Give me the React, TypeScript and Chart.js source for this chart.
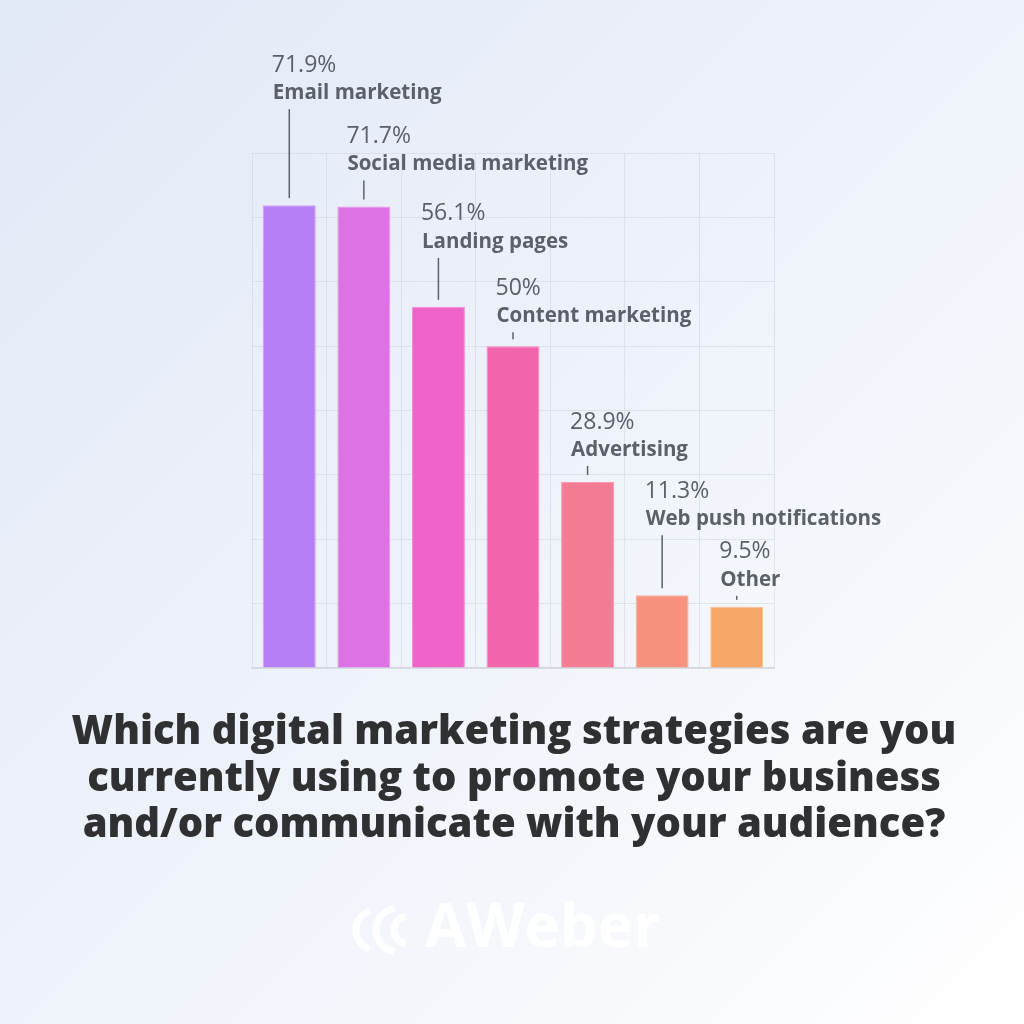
import React, { useEffect, useRef } from "react";
import { Chart, registerables } from "chart.js";

Chart.register(...registerables);

const categories = [
  "Email marketing",
  "Social media marketing",
  "Landing pages",
  "Content marketing",
  "Advertising",
  "Web push notifications",
  "Other",
];
const values = [71.9, 71.7, 56.1, 50, 28.9, 11.3, 9.5];
const valueLabels = ["71.9%", "71.7%", "56.1%", "50%", "28.9%", "11.3%", "9.5%"];
const barColors = ["#b67ff4", "#dc72e3", "#f063c9", "#f365ad", "#f47c95", "#f7927f", "#f7a866"];
const barBorders = ["#c9a0f8", "#e897ec", "#f58bd8", "#f78dc2", "#f89bae", "#f9ad9c", "#f9bf8e"];
// pixel lift of each value label above its bar top (layout only)
const labelLift = [140, 70, 93, 58, 60, 104, 55];
const titleLines = [
  "Which digital marketing strategies are you",
  "currently using to promote your business",
  "and/or communicate with your audience?",
];

const decorPlugin = {
  id: "decor",
  beforeDraw(chart: any) {
    const { ctx, width, height } = chart;
    ctx.save();
    const g = ctx.createLinearGradient(0, 0, width, height);
    g.addColorStop(0, "#e2e9f7");
    g.addColorStop(0.5, "#eef2fa");
    g.addColorStop(1, "#ffffff");
    ctx.fillStyle = g;
    ctx.fillRect(0, 0, width, height);
    ctx.restore();
  },
  afterDraw(chart: any) {
    const { ctx } = chart;
    const meta = chart.getDatasetMeta(0);
    ctx.save();
    meta.data.forEach((bar: any, i: number) => {
      const left = bar.x - bar.width / 2 + 10;
      const top = bar.y;
      const valY = top - labelLift[i];
      const catY = valY + 28;
      ctx.fillStyle = "#5c6068";
      ctx.textBaseline = "middle";
      ctx.textAlign = "left";
      ctx.font = "500 23px 'Open Sans'";
      ctx.fillText(valueLabels[i], left - 1, valY);
      ctx.font = "700 20.5px 'Open Sans'";
      ctx.fillText(categories[i], left, catY);
      ctx.strokeStyle = "#5c6068";
      ctx.lineWidth = 1.5;
      ctx.beginPath();
      ctx.moveTo(bar.x, catY + 16);
      ctx.lineTo(bar.x, top - 7);
      ctx.stroke();
    });
    // title
    ctx.fillStyle = "#2f3032";
    ctx.textAlign = "center";
    ctx.textBaseline = "middle";
    ctx.font = "800 40px 'Open Sans'";
    titleLines.forEach((t, i) => {
      ctx.fillText(t, 514, 733 + i * 46.5);
    });
    // brand mark
    ctx.fillStyle = "rgba(255,255,255,0.9)";
    ctx.strokeStyle = "rgba(255,255,255,0.9)";
    ctx.font = "700 60px 'Open Sans'";
    ctx.textAlign = "left";
    ctx.fillText("AWeber", 425, 930);
    ctx.lineWidth = 7;
    ctx.beginPath();
    ctx.arc(398, 930, 22, Math.PI * 0.55, Math.PI * 1.45);
    ctx.stroke();
    ctx.beginPath();
    ctx.arc(408, 930, 14, Math.PI * 0.55, Math.PI * 1.45);
    ctx.stroke();
    ctx.beginPath();
    ctx.arc(376, 930, 20, Math.PI * 0.6, Math.PI * 1.4);
    ctx.stroke();
    ctx.restore();
  },
};

export default function App() {
  const ref = useRef<HTMLCanvasElement>(null);
  useEffect(() => {
    if (!ref.current) return;
    const chart = new Chart(ref.current, {
      type: "bar",
      data: {
        labels: categories,
        datasets: [
          {
            data: values,
            backgroundColor: barColors,
            borderColor: barBorders,
            borderWidth: 1,
            categoryPercentage: 0.71,
            barPercentage: 1,
          },
        ],
      },
      options: {
        animation: false,
        responsive: false,
        layout: { padding: { left: 252, right: 250, top: 153, bottom: 356 } },
        plugins: { legend: { display: false }, tooltip: { enabled: false }, title: { display: false } },
        scales: {
          x: {
            grid: { color: "rgba(205,210,220,0.5)", offset: true, drawTicks: false },
            border: { color: "#d3d6dd", width: 1.5 },
            ticks: { display: false },
          },
          y: {
            min: 0,
            max: 80,
            grid: { color: "rgba(205,210,220,0.5)", drawTicks: false },
            border: { display: false },
            ticks: { display: false, stepSize: 10 },
          },
        },
      },
      plugins: [decorPlugin],
    });
    return () => chart.destroy();
  }, []);
  return (
    <div style={{ position: "absolute", left: 0, top: 0, width: 1024, height: 1024 }}>
      <canvas ref={ref} width={1024} height={1024} style={{ width: 1024, height: 1024 }} />
    </div>
  );
}
